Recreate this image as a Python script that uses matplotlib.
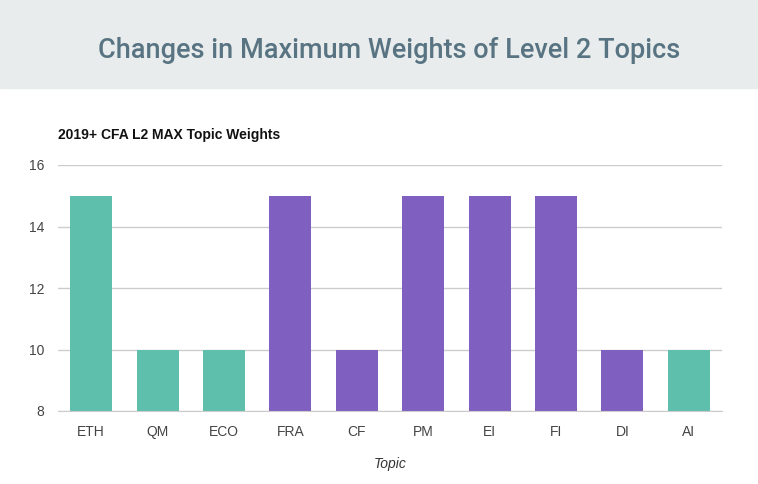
import matplotlib.pyplot as plt
from matplotlib.patches import Rectangle

topics = ['ETH', 'QM', 'ECO', 'FRA', 'CF', 'PM', 'EI', 'FI', 'DI', 'AI']
weights = [15, 10, 10, 15, 10, 15, 15, 15, 10, 10]
groups = ['a', 'a', 'a', 'b', 'b', 'b', 'b', 'b', 'b', 'a']
palette = {'a': '#5fbfad', 'b': '#7f5fbf'}

W, H = 758, 484
fig = plt.figure(figsize=(W / 100, H / 100), dpi=100)
fig.patches.append(Rectangle((0, 1 - 88 / H), 1, 88 / H, transform=fig.transFigure,
                             color='#e9eced', zorder=0))
fig.text(389 / W, 1 - 51 / H, 'Changes in Maximum Weights of Level 2 Topics',
         ha='center', va='center', fontsize=19.5, color='#587482', family='Roboto',
         fontweight='medium')
fig.text(58 / W, 1 - 135 / H, '2019+ CFA L2 MAX Topic Weights', ha='left', va='center',
         fontsize=10, fontweight='bold', color='#111111', family='Liberation Sans')

ax = fig.add_axes([58 / W, 1 - 411 / H, 664 / W, 246 / H])
x = range(len(topics))
ax.bar(x, [w - 8 for w in weights], bottom=8, width=0.63,
       color=[palette[g] for g in groups], zorder=2)
ax.set_xlim(-0.5, len(topics) - 0.5)
ax.set_ylim(8, 16)
ax.set_yticks([8, 10, 12, 14, 16])
ax.set_xticks(list(x))
ax.set_xticklabels(topics)
ax.grid(axis='y', color='#cccccc', linewidth=1, zorder=0)
for s in ['top', 'right', 'left']:
    ax.spines[s].set_visible(False)
ax.spines['bottom'].set_color('#cccccc')
ax.tick_params(length=0, labelsize=10, colors='#444444', pad=10)
ax.tick_params(axis='y', pad=10)
for lbl in ax.get_xticklabels() + ax.get_yticklabels():
    lbl.set_family('Liberation Sans')
ax.set_xlabel('Topic', fontsize=10, style='italic', color='#333333',
              family='Liberation Sans', labelpad=13)

fig.savefig('out.png', dpi=100)
